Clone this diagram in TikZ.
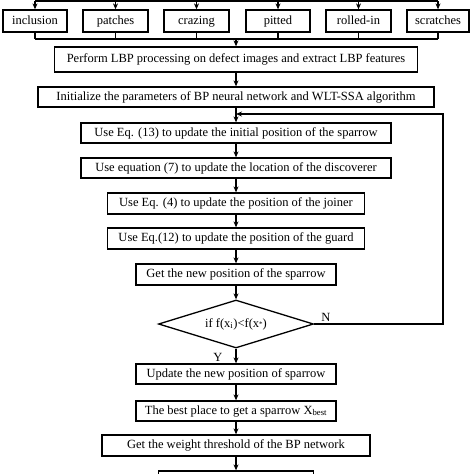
\documentclass[tikz,border=0pt]{standalone}
\usepackage{fontspec}
\setmainfont{Liberation Serif}
\usetikzlibrary{shapes.geometric,arrows.meta}
\begin{document}
\begin{tikzpicture}[x=1pt,y=-1pt,
  box/.style={draw,line width=1.3pt,inner sep=0pt,minimum height=20pt,text height=8.5pt,text depth=2.5pt,font=\fontsize{12.5}{14}\selectfont},
  arr/.style={line width=1.3pt,-{Stealth[length=6pt,width=5pt]}},
  ln/.style={line width=1.3pt},
  lbl/.style={font=\fontsize{12.5}{14}\selectfont,inner sep=0pt}]
\clip (0,0) rectangle (474,474);
\useasboundingbox (0,0) rectangle (474,474);
% top row
\node[box,minimum width=64pt,minimum height=22pt] (b1) at (35,21) {inclusion};
\node[box,minimum width=65pt,minimum height=22pt] (b2) at (115.5,21) {patches};
\node[box,minimum width=65pt,minimum height=22pt] (b3) at (196.5,21) {crazing};
\node[box,minimum width=64pt,minimum height=22pt] (b4) at (278,21) {pitted};
\node[box,minimum width=65pt,minimum height=22pt] (b5) at (358.5,21) {rolled-in};
\node[box,minimum width=62pt,minimum height=22pt] (b6) at (438,21) {scratches};
\coordinate (topL) at (35,1);
\coordinate (topR) at (438,1);
\coordinate (topin) at (241,-5);
\coordinate (join) at (236,39);
% main column
\node[box,minimum width=363pt,minimum height=25pt] (lbp) at (236,59.5) {Perform LBP processing on defect images and extract LBP features};
\node[box,minimum width=396pt] (init) at (236,97) {Initialize the parameters of BP neural network and WLT-SSA algorithm};
\node[box,minimum width=310pt] (e13) at (236,133) {Use Eq. (13) to update the initial position of the sparrow};
\node[box,minimum width=310pt] (e7) at (236,168) {Use equation (7) to update the location of the discoverer};
\node[box,minimum width=257pt,minimum height=21pt] (e4) at (236,203.5) {Use Eq. (4) to update the position of the joiner};
\node[box,minimum width=257pt,minimum height=21pt] (e12) at (236,238.5) {Use Eq.(12) to update the position of the guard};
\node[box,minimum width=200pt,minimum height=21pt] (gnew) at (236,274.5) {Get the new position of the sparrow};
\node[draw,diamond,line width=1.3pt,inner sep=0pt,aspect=3.23,minimum width=155pt,minimum height=48pt,font=\fontsize{12.5}{14}\selectfont] (dec) at (236,324) {if f(x\textsubscript{i})<f(x\raisebox{0.1ex}{\scriptsize *})};
\node[box,minimum width=200pt] (upd) at (236,374) {Update the new position of sparrow};
\node[box,minimum width=200pt] (best) at (236,411) {The best place to get a sparrow X\textsubscript{best}};
\node[box,minimum width=268pt,minimum height=21pt] (wt) at (236,445.5) {Get the weight threshold of the BP network};
\node[box,minimum width=155pt,minimum height=30pt] (last) at (236,486) {};
\coordinate (fbR) at (443,114);
% connectors
\draw[ln] (topin) -- (topin |- topL);
\draw[ln] (topL) -- (topR);
\foreach \b in {b1,b2,b3,b4,b5,b6} {
  \draw[arr] (\b.north |- topL) -- (\b.north);
  \draw[ln] (\b.south) -- (\b.south |- join);
}
\draw[ln] (b1.south |- join) -- (b6.south |- join);
\draw[arr] (join) -- (lbp.north);
\draw[arr] (lbp) -- (init);
\draw[arr] (init) -- (e13);
\draw[arr] (e13) -- (e7);
\draw[arr] (e7) -- (e4);
\draw[arr] (e4) -- (e12);
\draw[arr] (e12) -- (gnew);
\draw[arr] (gnew) -- (dec);
\draw[arr] (dec) -- (upd);
\draw[arr] (upd) -- (best);
\draw[arr] (best) -- (wt);
\draw[arr] (wt) -- (last);
\draw[arr] (dec.east) -| (fbR) -- (fbR -| init.south);
\node[lbl] (nlab) at (326,317) {N};
\node[lbl] (ylab) at (218,357) {Y};
\end{tikzpicture}
\end{document}
